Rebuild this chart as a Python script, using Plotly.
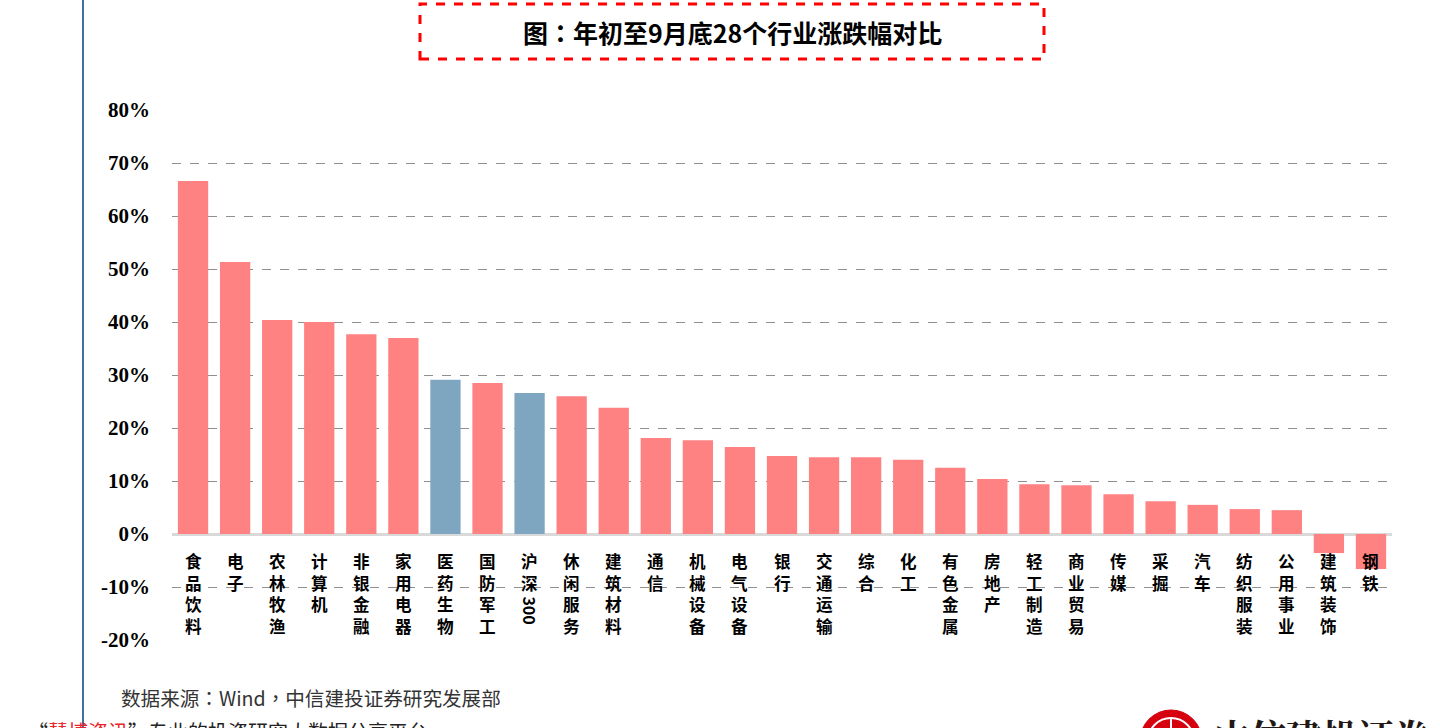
import plotly.graph_objects as go

categories = ["食品饮料", "电子", "农林牧渔", "计算机", "非银金融", "家用电器", "医药生物", "国防军工",
              "沪深300", "休闲服务", "建筑材料", "通信", "机械设备", "电气设备", "银行", "交通运输",
              "综合", "化工", "有色金属", "房地产", "轻工制造", "商业贸易", "传媒", "采掘", "汽车",
              "纺织服装", "公用事业", "建筑装饰", "钢铁"]
values = [66.6, 51.3, 40.4, 40.0, 37.7, 37.0, 29.1, 28.5, 26.6, 26.0, 23.8, 18.1, 17.7, 16.4,
          14.7, 14.5, 14.5, 14.0, 12.5, 10.4, 9.4, 9.2, 7.5, 6.2, 5.5, 4.7, 4.5, -3.6, -6.6]
highlight = ["医药生物", "沪深300"]
tick_vals = [80, 70, 60, 50, 40, 30, 20, 10, 0, -10, -20]
tick_text = ["80%", "70%", "60%", "50%", "40%", "30%", "20%", "10%", "0%", "-10%", "-20%"]

title_text = "图：年初至9月底28个行业涨跌幅对比"
source_text = "数据来源：Wind，中信建投证券研究发展部"

PINK = "#FF8283"
BLUE = "#7FA6C0"
colors = [BLUE if c in highlight else PINK for c in categories]

# layout geometry (pixels)
W, H = 1440, 728
L, R, T, B = 172, 48, 110, 88
PW, PH = W - L - R, H - T - B


def px_x(px):
    return (px - L) / PW


def px_y(py):
    return (H - B - py) / PH


fig = go.Figure()
fig.add_trace(go.Bar(x=categories, y=values, marker=dict(color=colors, line=dict(width=0)),
                     width=0.72, hoverinfo="x+y"))

annotations = []
LABEL_FONT = dict(family="Noto Sans CJK SC", size=16.6, color="#000000", weight="bold")
for cat in categories:
    if cat.endswith("300"):
        head, tail = cat[:-3], cat[-3:]
    else:
        head, tail = cat, ""
    annotations.append(dict(x=cat, y=0, xref="x", yref="y", text="<br>".join(head),
                            showarrow=False, yanchor="top", xanchor="center", yshift=-14,
                            borderpad=0, font=LABEL_FONT))
    if tail:
        annotations.append(dict(x=cat, y=0, xref="x", yref="y", text=tail, showarrow=False,
                                textangle=90, yanchor="middle", xanchor="center",
                                yshift=-76, borderpad=0,
                                font=dict(family="Noto Sans CJK SC", size=16, color="#000",
                                          weight="bold")))

# title
annotations.append(dict(x=px_x(732), y=px_y(32), xref="paper", yref="paper", text=title_text,
                        showarrow=False, xanchor="center", yanchor="middle",
                        font=dict(family="Noto Sans CJK TC", size=25, color="#000", weight="bold")))
# source
annotations.append(dict(x=px_x(119), y=px_y(697), xref="paper", yref="paper", text=source_text,
                        showarrow=False, xanchor="left", yanchor="middle",
                        font=dict(family="Noto Sans CJK TC", size=19.6, color="#333333")))
# watermark line (cut off at the bottom edge, as in the reference)
annotations.append(dict(x=px_x(26), y=px_y(715), xref="paper", yref="paper",
                        text="“<span style='color:#E8262B'>慧博资讯</span>”专业的投资研究大数据分享平台",
                        showarrow=False, xanchor="left", yanchor="top",
                        font=dict(family="Noto Sans CJK SC", size=20, color="#222222")))
# logo text (cut off)
annotations.append(dict(x=px_x(1212), y=px_y(708), xref="paper", yref="paper",
                        text="中信建投证券", showarrow=False, xanchor="left", yanchor="top",
                        font=dict(family="Noto Serif CJK SC, Noto Sans CJK SC", size=36,
                                  color="#231815", weight="bold")))

shapes = [
    dict(type="rect", xref="paper", yref="paper", x0=px_x(420), x1=px_x(1044),
         y0=px_y(59), y1=px_y(4), line=dict(color="#FF0000", width=3, dash="dash")),
    dict(type="line", xref="paper", yref="paper", x0=px_x(83), x1=px_x(83),
         y0=px_y(0), y1=px_y(728), line=dict(color="#41719C", width=2)),
    dict(type="circle", xref="paper", yref="paper", x0=px_x(1140), x1=px_x(1202),
         y0=px_y(772), y1=px_y(710), fillcolor="#D7000F", line=dict(color="#D7000F", width=1)),
    dict(type="circle", xref="paper", yref="paper", x0=px_x(1148), x1=px_x(1194),
         y0=px_y(764), y1=px_y(718), line=dict(color="#FFFFFF", width=2)),
    dict(type="line", xref="paper", yref="paper", x0=px_x(1171), x1=px_x(1171),
         y0=px_y(728), y1=px_y(718), line=dict(color="#FFFFFF", width=2)),
]

fig.update_layout(
    width=W, height=H,
    margin=dict(l=L, r=R, t=T, b=B),
    paper_bgcolor="#FFFFFF", plot_bgcolor="#FFFFFF",
    showlegend=False,
    bargap=0.28,
    annotations=annotations,
    shapes=shapes,
    xaxis=dict(type="category", showticklabels=False, showgrid=False, showline=False,
               ticks="", zeroline=False, range=[-0.5, len(categories) - 0.5]),
    yaxis=dict(range=[-20, 80], tickvals=tick_vals, ticktext=tick_text,
               showgrid=True, gridcolor="#8F8F8F", gridwidth=1, griddash="dash",
               zeroline=True, zerolinecolor="#D9D9D9", zerolinewidth=3,
               showline=False, ticks="", ticklabelstandoff=21,
               tickfont=dict(family="Liberation Serif", size=21, color="#000", weight="bold")),
)

fig.write_html("out.html")
